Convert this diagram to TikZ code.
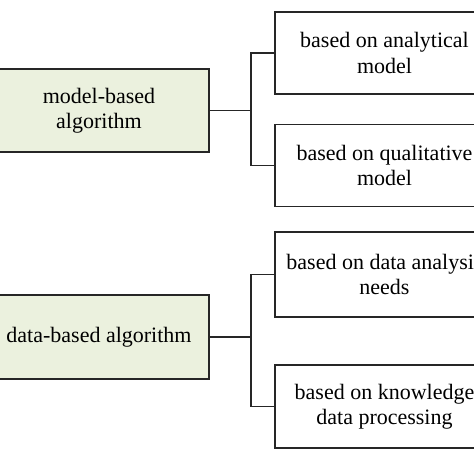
\documentclass[tikz,border=0pt]{standalone}
\usepackage{fontspec}
\setmainfont{Liberation Serif}
\definecolor{boxgreen}{HTML}{EBF1DE}
\begin{document}
\begin{tikzpicture}[x=1pt,y=1pt,
  every node/.style={font=\fontsize{22}{25.5}\selectfont, align=center, inner sep=0pt},
  mainbox/.style={draw=black!85, line width=1.4pt, fill=boxgreen, minimum width=220pt, minimum height=83pt},
  subbox/.style={draw=black!85, line width=1.4pt, fill=white, minimum width=219pt, minimum height=82pt},
  link/.style={draw=black!85, line width=1.4pt}]
\useasboundingbox (0,0) rectangle (474,474);
\clip (0,0) rectangle (474,474);
\fill[white] (0,0) rectangle (474,474);
\node[mainbox] (L1) at (99,363.5) {model-based\\algorithm};
\node[mainbox, minimum height=84pt] (L2) at (99,137) {data-based algorithm};
\node[subbox] (R1) at (384.5,421) {based on analytical\\model};
\node[subbox] (R2) at (384.5,308.5) {based on qualitative\\model};
\node[subbox, minimum height=85pt] (R3) at (384.5,199.5) {based on data analysis\\needs};
\node[subbox, minimum height=83pt] (R4) at (384.5,67.5) {based on knowledge\\data processing};
\coordinate (j1) at (251,363.5);
\coordinate (j2) at (251,137);
\draw[link] (L1.east) -- (j1);
\draw[link] (R1.west) -| (j1) |- (R2.west);
\draw[link] (L2.east) -- (j2);
\draw[link] (R3.west) -| (j2) |- (R4.west);
\end{tikzpicture}
\end{document}
